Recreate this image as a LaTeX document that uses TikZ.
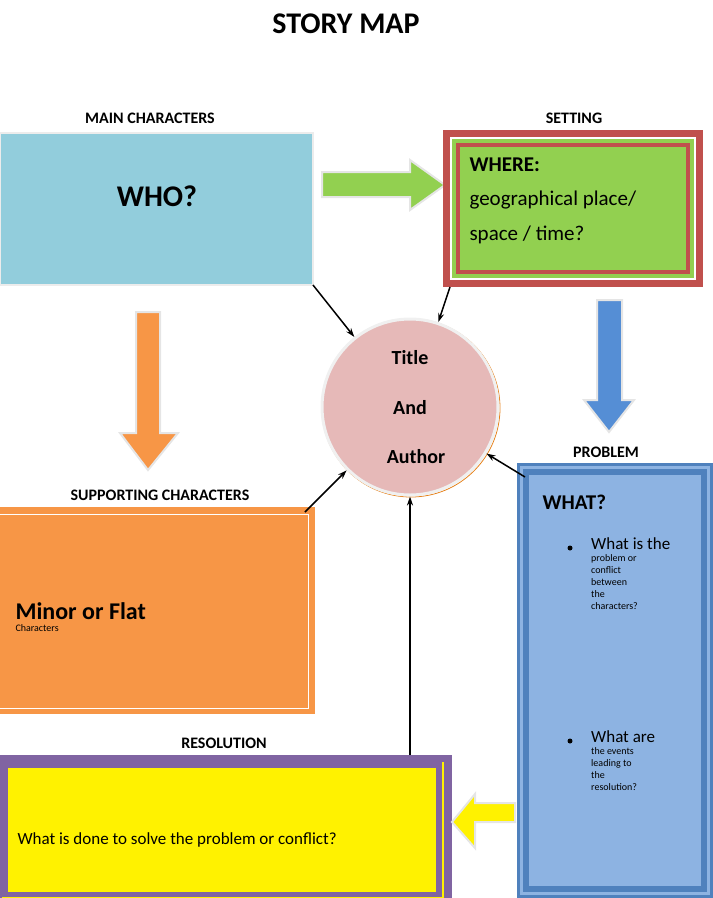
\documentclass[tikz,border=0pt]{standalone}
\usepackage{fontspec}
\setmainfont{Carlito}
\usetikzlibrary{arrows.meta}
\definecolor{cblue}{HTML}{92CDDC}
\definecolor{cgreen}{HTML}{92D050}
\definecolor{cred}{HTML}{C0504D}
\definecolor{cpink}{HTML}{E6B9B8}
\definecolor{cdblue}{HTML}{558ED5}
\definecolor{cpblue}{HTML}{4F81BD}
\definecolor{cfblue}{HTML}{8DB3E2}
\definecolor{corange}{HTML}{F79646}
\definecolor{cpurple}{HTML}{8064A2}
\tikzset{
 lab/.style={font=\bfseries\fontsize{16}{18}\selectfont},
 conn/.style={-{Stealth[length=9pt,width=6pt]},line width=1.5pt},
 barrow/.style={draw=gray!20,line width=2pt},
}
\begin{document}
\begin{tikzpicture}[x=1pt,y=-1pt]
\useasboundingbox (0,0) rectangle (713,898);
\node (title) at (346,24) {\bfseries\fontsize{30}{34}\selectfont STORY MAP};
% main characters
\node[lab] (lmain) at (150,118) {MAIN CHARACTERS};
\draw[fill=cblue,draw=gray!15,line width=2pt] (0,133) rectangle (313,285);
\node (who) at (157,196) {\bfseries\fontsize{30}{34}\selectfont WHO?};
\coordinate (whoc) at (313,285);
% green arrow
\draw[barrow,fill=cgreen] (322,172)--(410,172)--(410,160)--(445,185)--(410,210)--(410,197)--(322,197)--cycle;
% setting
\node[lab] (lset) at (574,118) {SETTING};
\fill[cred] (443,130) rectangle (703,287);
\fill[white] (450,137) rectangle (696,280);
\fill[cgreen] (452,139) rectangle (694,278);
\fill[cred] (456,143) rectangle (690,274);
\fill[cgreen] (460,147) rectangle (686,270);
\node[anchor=west] (where) at (466,165) {\bfseries\fontsize{21}{24}\selectfont WHERE:};
\node[anchor=west] (geo) at (466,200) {\fontsize{21}{24}\selectfont geographical place/};
\node[anchor=west] (spc) at (466,235) {\fontsize{21}{24}\selectfont space / time?};
\coordinate (setc) at (450,287);
% circle
\draw[orange!60!brown,line width=0.8pt] (411,408) circle (89);
\node[circle,minimum size=176pt,fill=cpink,draw=gray!12,line width=3pt,inner sep=0pt] (circ) at (410,407) {};
\node (t1) at (410,358) {\bfseries\fontsize{20}{24}\selectfont Title};
\node (t2) at (410,408) {\bfseries\fontsize{20}{24}\selectfont And};
\node (t3) at (416,457) {\bfseries\fontsize{20}{24}\selectfont Author};
% blue arrow
\draw[barrow,fill=cdblue] (597,300)--(622,300)--(622,400)--(634,400)--(609,432)--(584,400)--(597,400)--cycle;
% problem
\node[lab] (lprob) at (606,452) {PROBLEM};
\fill[cpblue] (517,463) rectangle (713,898);
\fill[cfblue] (520,466) rectangle (710,895);
\fill[cpblue] (523,469) rectangle (707,892);
\fill[cfblue] (529,475) rectangle (701,886);
\node[anchor=west] (what) at (539,502) {\bfseries\fontsize{21}{24}\selectfont WHAT?};
\foreach \y in {548,741} \fill (570,\y) circle (2.5);
\node[anchor=north west,align=left,inner sep=0pt] (pt1) at (591,537) {\fontsize{17}{27.6}\selectfont What is the\\problem or\\conflict\\between\\the\\characters?};
\node[anchor=north west,align=left,inner sep=0pt] (pt2) at (591,730) {\fontsize{17}{27.6}\selectfont What are\\the events\\leading to\\the\\resolution?};
\coordinate (probc) at (525,477);
% orange arrow
\draw[barrow,fill=corange] (136,312)--(160,312)--(160,433)--(178,433)--(148,470)--(120,433)--(136,433)--cycle;
% supporting
\node[lab] (lsup) at (160,495) {SUPPORTING CHARACTERS};
\fill[corange] (0,507) rectangle (315,714);
\draw[white,line width=1pt] (-1,514) rectangle (308,708);
\node[anchor=west,align=left] (minor) at (12,617) {\bfseries\fontsize{24}{38}\selectfont Minor or Flat\\Characters};
\coordinate (supc) at (305,512);
% resolution
\node[lab] (lres) at (224,743) {RESOLUTION};
\fill[cpurple] (0,755) rectangle (452,898);
\fill[yellow] (2,762) rectangle (444,898);
\fill[cpurple] (2,762) rectangle (442,897);
\fill[yellow] (8,768) rectangle (436,892);
\node[anchor=west] (rtxt) at (14,840) {\fontsize{17}{20}\selectfont What is done to solve the problem or conflict?};
\coordinate (resc) at (410,755);
% yellow arrow
\draw[barrow,fill=yellow] (515,803)--(475,803)--(475,794)--(452,822)--(475,848)--(475,822)--(515,822)--cycle;
% connectors
\draw[conn] (whoc) -- (circ);
\draw[conn] (setc) -- (circ);
\draw[conn] (supc) -- (circ);
\draw[conn] (resc) -- (circ.south);
\draw[conn] (probc) -- (circ);
\end{tikzpicture}
\end{document}
